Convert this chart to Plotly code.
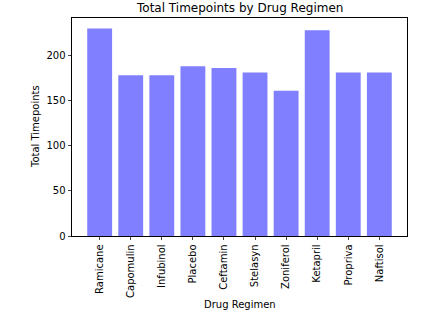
import plotly.graph_objects as go

drugs = ["Ramicane", "Capomulin", "Infubinol", "Placebo", "Ceftamin",
         "Stelasyn", "Zoniferol", "Ketapril", "Propriva", "Naftisol"]
timepoints = [230, 178, 178, 188, 186, 181, 161, 228, 181, 181]
yticks = [0, 50, 100, 150, 200]

W, H = 442, 319
L, R, T, B = 72, 35, 18, 83

fig = go.Figure()
fig.add_trace(go.Bar(
    x=list(range(len(drugs))), y=timepoints, width=0.8,
    marker=dict(color="rgba(0,0,255,0.5)", line=dict(width=0)),
))

font = "DejaVu Sans, sans-serif"
fig.update_layout(
    width=W, height=H,
    margin=dict(l=L, r=R, t=T, b=B),
    paper_bgcolor="white", plot_bgcolor="white",
    showlegend=False,
    font=dict(family=font, size=10, color="black"),
    xaxis=dict(
        range=[-0.89, 9.89], tickmode="array",
        tickvals=list(range(len(drugs))), ticktext=drugs,
        tickangle=-90, ticks="outside", ticklen=3.5, tickwidth=0.8,
        showline=True, linecolor="black", linewidth=0.8, mirror=True,
        showgrid=False, zeroline=False, fixedrange=True,
    ),
    yaxis=dict(
        range=[0, 241.5], tickmode="array", tickvals=yticks,
        ticks="outside", ticklen=3.5, tickwidth=0.8,
        showline=True, linecolor="black", linewidth=0.8, mirror=True,
        showgrid=False, zeroline=False, fixedrange=True,
    ),
    annotations=[
        dict(text="Total Timepoints by Drug Regimen", xref="paper", yref="paper",
             x=0.5, y=1, yshift=10, xanchor="center", yanchor="middle",
             showarrow=False, font=dict(size=12, family=font)),
        dict(text="Drug Regimen", xref="paper", yref="paper",
             x=0.5, y=0, yshift=-68, xanchor="center", yanchor="middle",
             showarrow=False, font=dict(size=10, family=font)),
        dict(text="Total Timepoints", xref="paper", yref="paper",
             x=0, y=0.5, xshift=-37, xanchor="center", yanchor="middle",
             textangle=-90, showarrow=False, font=dict(size=10, family=font)),
    ],
)

fig.write_html("out.html")
